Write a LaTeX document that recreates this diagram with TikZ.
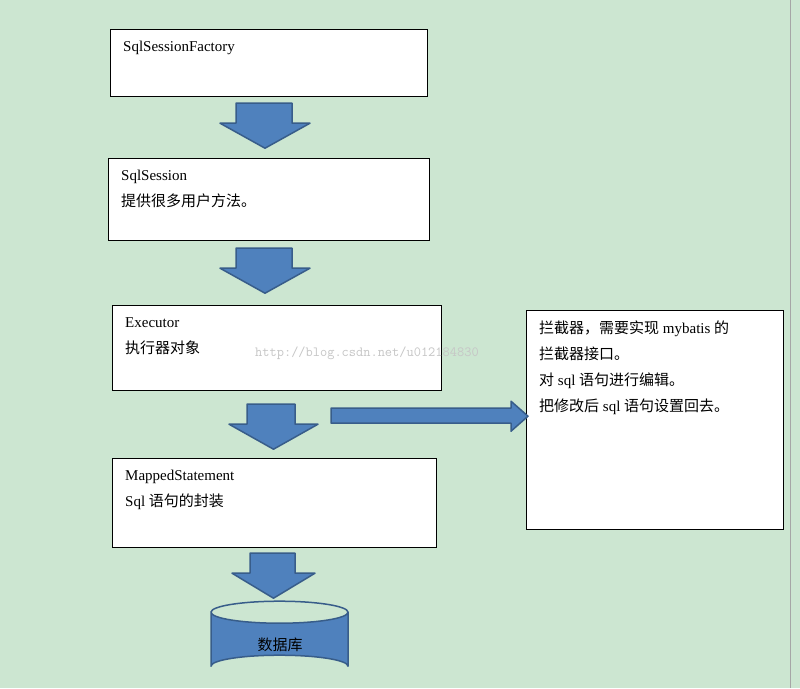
\documentclass[tikz,border=0pt]{standalone}
\usepackage{fontspec}
\setmainfont{Liberation Serif}
\newfontfamily\cjk{Noto Sans CJK SC}
\usetikzlibrary{calc}
\definecolor{bgreen}{RGB}{204,230,209}
\definecolor{ablue}{RGB}{79,129,189}
\definecolor{aedge}{RGB}{56,93,138}
\tikzset{
  box/.style={draw=black, fill=white, anchor=north west, inner sep=0pt},
  txt/.style={anchor=north west, align=left, inner sep=0pt, font=\fontsize{15}{26}\selectfont},
  blk/.style={fill=ablue, draw=aedge, line width=1.5pt, line join=round}
}
\newcommand{\downblk}[5]{% shaft left, shaft right, head left, head right, top
  \draw[blk] (#1,#5) -- (#2,#5) -- ++(0,20) -- (#4,#5+20) -- ({(#3+#4)/2},#5+45)
    -- (#3,#5+20) -- (#1,#5+20) -- cycle;}
\begin{document}
\begin{tikzpicture}[x=1pt,y=-1pt]
\fill[bgreen] (0,0) rectangle (800,688);
\draw[gray!70] (790,0) -- (790,688);
% boxes
\node[box, minimum width=317pt, minimum height=67pt] (fac) at (110,29) {};
\node[txt] (facT) at ($(fac.north west)+(13,12)$) {SqlSessionFactory};
\node[box, minimum width=321pt, minimum height=82pt] (ses) at (108,158) {};
\node[txt] (sesT) at ($(ses.north west)+(13,12)$) {SqlSession\\\cjk 提供很多用户方法。};
\node[box, minimum width=329pt, minimum height=85pt] (exe) at (112,305) {};
\node[txt] (exeT) at ($(exe.north west)+(13,12)$) {Executor\\\cjk 执行器对象};
\node[txt, text=gray!45, font=\ttfamily\fontsize{14}{16}\selectfont] (mark) at (255,346) {http://blog.csdn.net/u012184830};
\node[box, minimum width=324pt, minimum height=89pt] (map) at (112,458) {};
\node[txt] (mapT) at ($(map.north west)+(13,12)$) {MappedStatement\\Sql {\cjk 语句的封装}};
\node[box, minimum width=257pt, minimum height=219pt] (itc) at (526,310) {};
\node[txt] (itcT) at ($(itc.north west)+(13,10)$) {{\cjk 拦截器，需要实现} mybatis {\cjk 的}\\{\cjk 拦截器接口。}\\{\cjk 对} sql {\cjk 语句进行编辑。}\\{\cjk 把修改后} sql {\cjk 语句设置回去。}};
% block arrows
\downblk{236}{292}{220}{310}{103}
\downblk{236}{292}{220}{310}{248}
\downblk{247}{295}{229}{318}{404}
\downblk{250}{295}{232}{315}{553}
\draw[blk] (331,408) -- (511,408) -- (511,401) -- (528,416) -- (511,431) -- (511,423) -- (331,423) -- cycle;
% database
\draw[blk] (211,612) -- (211,666) arc[start angle=180, end angle=360, x radius=68.5pt, y radius=-11pt]
  -- (348,612) arc[start angle=0, end angle=180, x radius=68.5pt, y radius=-11pt] -- cycle;
\draw[aedge, line width=1.5pt] (211,612) arc[start angle=180, end angle=360, x radius=68.5pt, y radius=-11pt];
\node[font=\cjk\fontsize{15}{17}\selectfont] (dbT) at (280,645) {数据库};
\end{tikzpicture}
\end{document}
